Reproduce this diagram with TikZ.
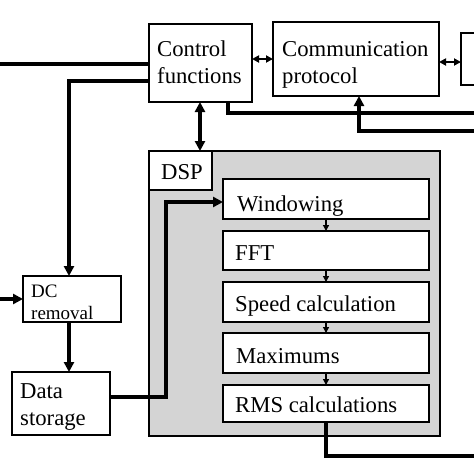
\documentclass[tikz,border=0pt]{standalone}
\usepackage{fontspec}
\setmainfont{Liberation Serif}
\usetikzlibrary{arrows.meta}
\begin{document}
\begin{tikzpicture}[x=1pt,y=-1pt,
  box/.style={draw,line width=1.5pt,fill=white,inner sep=0pt,outer sep=0pt,anchor=north west},
  lbl/.style={anchor=base west,inner sep=0pt,font=\fontsize{22.7}{26}\selectfont},
  slbl/.style={anchor=base west,inner sep=0pt,font=\fontsize{19}{22}\selectfont},
  wire/.style={line width=3.2pt},
  arr/.style={wire,-{Triangle[length=10pt,width=10pt]}},
  darr/.style={wire,{Triangle[length=10pt,width=10pt]}-{Triangle[length=10pt,width=10pt]}},
  tarr/.style={line width=2pt,{Triangle[length=7pt,width=7pt]}-{Triangle[length=7pt,width=7pt]}},
  sarr/.style={line width=1.3pt,-{Triangle[length=6pt,width=6pt]}}]
\useasboundingbox (0,0) rectangle (474,474);
\clip (0,0) rectangle (474,474);
\fill[white] (0,0) rectangle (474,474);
% boxes
\node[box,minimum width=103pt,minimum height=78pt] (ctrl) at (149,24) {};
\node[box,minimum width=166pt,minimum height=74pt] (comm) at (273,22) {};
\node[box,minimum width=40pt,minimum height=52pt] (ext) at (461,33) {};
\node[box,fill=black!17,minimum width=291pt,minimum height=285pt] (dsp) at (149,151) {};
\node[box,minimum width=63pt,minimum height=39pt] (dspl) at (149,151) {};
\node[box,minimum width=206pt,minimum height=40pt] (win) at (223,179) {};
\node[box,minimum width=206pt,minimum height=39pt] (fft) at (223,231) {};
\node[box,minimum width=206pt,minimum height=40pt] (spd) at (223,282) {};
\node[box,minimum width=206pt,minimum height=40pt] (max) at (223,333) {};
\node[box,minimum width=206pt,minimum height=37pt] (rms) at (223,385) {};
\node[box,minimum width=98pt,minimum height=46pt] (dc) at (23,276) {};
\node[box,minimum width=98pt,minimum height=63pt] (data) at (12,372) {};
% texts
\node[lbl] (t1) at (157,56) {Control};
\node[lbl] (t2) at (157,83) {functions};
\node[lbl] (t3) at (282,56) {Communication};
\node[lbl] (t4) at (282,83) {protocol};
\node[lbl] (t5) at (161,179) {DSP};
\node[lbl] (t6) at (237,211) {Windowing};
\node[lbl] (t7) at (235,260) {FFT};
\node[lbl] (t8) at (235,311) {Speed calculation};
\node[lbl] (t9) at (236,363) {Maximums};
\node[lbl] (t10) at (235,412) {RMS calculations};
\node[slbl] (t11) at (31,297) {DC};
\node[slbl] (t12) at (31,319) {removal};
\node[lbl] (t13) at (20,398) {Data};
\node[lbl] (t14) at (20,425) {storage};
% free ends
\coordinate (in1) at (0,64);
\coordinate (in2) at (0,299);
\coordinate (out1) at (480,113);
\coordinate (out2) at (480,131);
\coordinate (out3) at (480,456);
% connectors
\draw[wire] (in1) -- (ctrl.west |- in1);
\draw[arr] (ctrl.west |- 0,81) -| (dc.north -| 69,0);
\draw[arr] (in2) -- (dc.west |- in2);
\draw[arr] (dc.south -| 69,0) -- (data.north -| 69,0);
\draw[tarr] (ctrl.east |- 0,59) -- (comm.west |- 0,59);
\draw[tarr] (comm.east |- 0,62) -- (ext.west |- 0,62);
\draw[darr] (ctrl.south -| 200,0) -- (dsp.north -| 200,0);
\draw[wire] (ctrl.south -| 228,0) |- (out1);
\draw[arr] (out2) -| (comm.south -| 359,0);
\draw[arr] (data.east |- 0,397) -| (166,202) -- (win.west |- 0,202);
\draw[sarr] (win.south -| 326,0) -- (fft.north -| 326,0);
\draw[sarr] (fft.south -| 326,0) -- (spd.north -| 326,0);
\draw[sarr] (spd.south -| 326,0) -- (max.north -| 326,0);
\draw[sarr] (max.south -| 326,0) -- (rms.north -| 326,0);
\draw[wire] (rms.south -| 326,0) |- (out3);
\end{tikzpicture}
\end{document}
